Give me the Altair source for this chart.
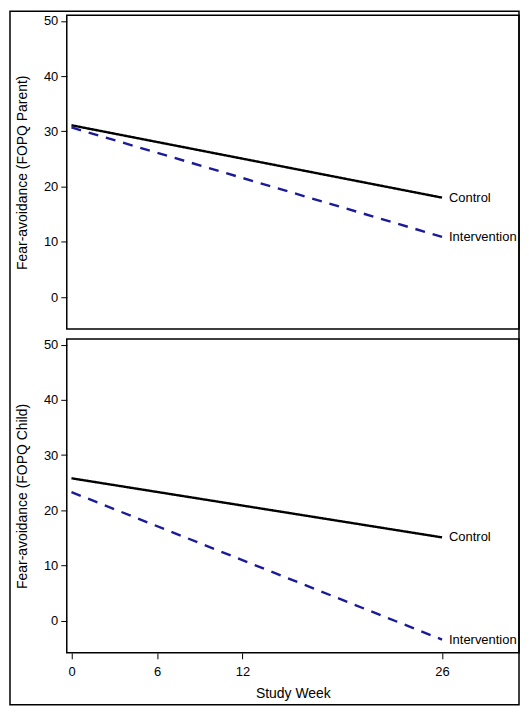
import altair as alt
import pandas as pd

weeks = [0, 26]
groups = ["Control", "Intervention"]
parent_control = [31.1, 18.0]
parent_intervention = [30.7, 10.9]
child_control = [25.8, 15.1]
child_intervention = [23.3, -3.4]
x_ticks = [0, 6, 12, 26]
y_ticks = [0, 10, 20, 30, 40, 50]

W = 454
H = 315
GAP = 10
FONT = "Liberation Sans"
INK = "#000000"


def frame(ctrl, interv):
    rows = []
    for g, vals in zip(groups, [ctrl, interv]):
        for w, v in zip(weeks, vals):
            rows.append({"group": g, "week": w, "value": v})
    return pd.DataFrame(rows)


xscale = alt.Scale(domain=[-0.33, 31.4], nice=False, zero=False)
yscale = alt.Scale(domain=[-5.8, 51], nice=False, zero=False)
color = alt.Color("group:N", scale=alt.Scale(domain=groups, range=["#000000", "#1a1a9a"]), legend=None)
dash = alt.StrokeDash("group:N", scale=alt.Scale(domain=groups, range=[[1, 0], [10, 8]]), legend=None)


def panel(df, ytitle, show_x, border=False):
    base = alt.Chart(df)
    if show_x:
        xaxis = alt.Axis(values=x_ticks, title="Study Week", labelPadding=7, titlePadding=8)
    else:
        xaxis = None
    lines = base.mark_line(strokeWidth=2.4).encode(
        x=alt.X("week:Q", scale=xscale, axis=xaxis),
        y=alt.Y("value:Q", scale=yscale,
                axis=alt.Axis(values=y_ticks, title=ytitle, labelPadding=3, titlePadding=14)),
        color=color,
        strokeDash=dash,
    )
    labels = base.transform_filter(alt.datum.week == 26).mark_text(
        align="left", baseline="middle", dx=7, fontSize=13, font=FONT, color=INK
    ).encode(x="week:Q", y="value:Q", text="group:N")
    layers = [lines, labels]
    if border:
        rect = alt.Chart(pd.DataFrame({"k": [0]})).mark_rect(
            fillOpacity=0, stroke="#000000", strokeWidth=1.5, clip=False
        ).encode(
            x=alt.value(-57), x2=alt.value(W),
            y=alt.value(-4), y2=alt.value(H + GAP + H + 52),
        )
        layers.append(rect)
    return alt.layer(*layers).properties(width=W, height=H)


top = panel(frame(parent_control, parent_intervention), "Fear-avoidance (FOPQ Parent)", False, border=True)
bottom = panel(frame(child_control, child_intervention), "Fear-avoidance (FOPQ Child)", True)

chart = alt.vconcat(top, bottom, spacing=GAP, bounds="flush").properties(
    padding=0, background="white"
).configure_view(
    stroke="#000000", strokeWidth=1.5
).configure_axis(
    labelFont=FONT, labelFontSize=13, labelColor=INK,
    titleFont=FONT, titleFontSize=14, titleFontWeight="normal", titleColor=INK,
    tickColor="#000000", tickSize=6, tickWidth=1, domain=False, grid=False,
)

chart.save("out.html", embed_options={"renderer": "svg", "actions": False})
